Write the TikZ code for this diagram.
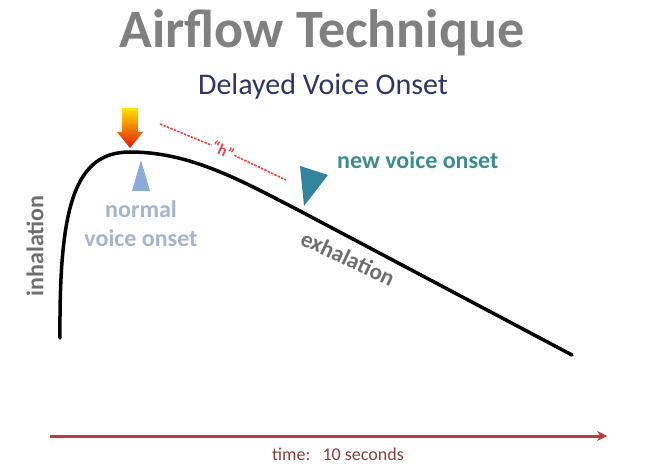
\documentclass[tikz,border=0pt]{standalone}
\usepackage{fontspec}
\setmainfont{Carlito}
\usetikzlibrary{arrows.meta}
\definecolor{titlegray}{RGB}{128,128,128}
\definecolor{navy}{RGB}{47,52,104}
\definecolor{tealtri}{RGB}{49,132,155}
\definecolor{tealtext}{RGB}{58,140,145}
\definecolor{lightblue}{RGB}{141,170,214}
\definecolor{bluegray}{RGB}{163,181,204}
\definecolor{labelgray}{RGB}{110,110,110}
\definecolor{dashred}{RGB}{228,70,70}
\definecolor{timered}{RGB}{192,57,59}
\definecolor{timetext}{RGB}{140,60,60}
\begin{document}
\begin{tikzpicture}[x=1pt,y=-1pt,
  fsz/.style={font=\fontsize{#1}{#1}\selectfont},
  bfsz/.style={font=\bfseries\fontsize{#1}{#1}\selectfont},
  lbl/.style={inner sep=0pt, anchor=base},
  hdash/.style={dashred, line width=1.6pt, dash pattern=on 2.5pt off 1.2pt}]
\useasboundingbox (0,0) rectangle (648,468);
% titles
\node[lbl, bfsz=54, text=titlegray] (title) at (322,48) {Airflow Technique};
\node[lbl, fsz=30, text=navy] (subtitle) at (323,95) {Delayed Voice Onset};
% breathing curve
\draw[line width=3.5pt, line cap=round] (60,338) .. controls (59,205) and (75,152) .. (130,152)
  .. controls (190,152) and (240,180) .. (300,211) -- (572,355);
% red-yellow arrow
\shade[top color={rgb,255:red,255;green,228;blue,0}, bottom color={rgb,255:red,226;green,22;blue,0}]
  (122,108) -- (138,108) -- (138,132) -- (143,132) -- (130,148) -- (117,132) -- (122,132) -- cycle;
% normal onset triangle
\fill[lightblue] (141,160) -- (150,191) -- (132,191) -- cycle;
\node[lbl, bfsz=24, text=bluegray] (normal) at (141,217) {normal};
\node[lbl, bfsz=24, text=bluegray] (voiceonset) at (141,246) {voice onset};
% new onset triangle
\fill[tealtri] (300,166) -- (328,175) -- (304,206) -- cycle;
\node[lbl, bfsz=24, text=tealtext, anchor=base west] (newonset) at (337,168) {new voice onset};
% dashed "h" line
\coordinate (hstart) at (160,124);
\coordinate (hend) at (286,180);
\node[bfsz=16, text=dashred, rotate=-24, inner sep=1pt] (h) at (223,150) {``h''};
\draw[hdash] (hstart) -- (h);
\draw[hdash] (h) -- (hend);
% exhalation / inhalation
\node[bfsz=23, text=labelgray, rotate=-25, inner sep=0pt] (exh) at (348,258) {exhalation};
\node[bfsz=24, text=labelgray, rotate=90, inner sep=0pt] (inh) at (35,246) {inhalation};
% time axis
\coordinate (tstart) at (50,436);
\coordinate (tend) at (607,436);
\draw[timered, line width=3pt, -{Stealth[length=10pt,width=10pt]}] (tstart) -- (tend);
\node[lbl, fsz=18, text=timetext] (time) at (338,460) {time:\ \ \ 10 seconds};
\end{tikzpicture}
\end{document}
